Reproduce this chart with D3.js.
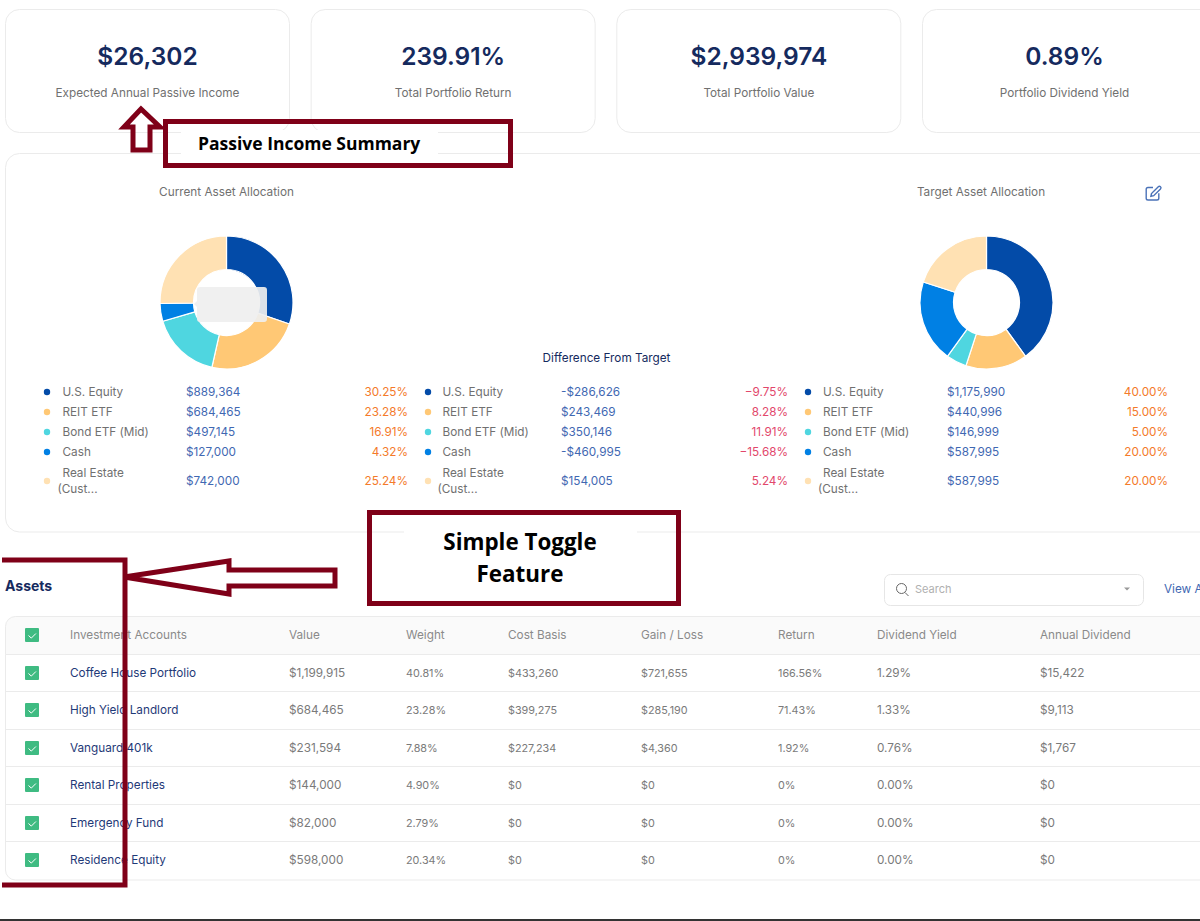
<!DOCTYPE html>
<html>
<head>
<meta charset="utf-8">
<script src="https://cdn.jsdelivr.net/npm/d3@7"></script>
<style>
  body { margin: 0; background: #fff; overflow: hidden; }
  text { font-family: Inter, "Noto Sans", sans-serif; }
</style>
</head>
<body>
<div id="chart"></div>
<script>
// summary cards
const summaryValues = ["$26,302", "239.91%", "$2,939,974", "0.89%"]
const summaryLabels = ["Expected Annual Passive Income", "Total Portfolio Return", "Total Portfolio Value", "Portfolio Dividend Yield"]

// allocation
const categories = ["U.S. Equity", "REIT ETF", "Bond ETF (Mid)", "Cash", "Real Estate (Cust..."]
const currentValues = [889364, 684465, 497145, 127000, 742000]
const currentPct = [30.25, 23.28, 16.91, 4.32, 25.24]
const diffValues = [-286626, 243469, 350146, -460995, 154005]
const diffPct = [-9.75, 8.28, 11.91, -15.68, 5.24]
const targetValues = [1175990, 440996, 146999, 587995, 587995]
const targetPct = [40, 15, 5, 20, 20]
const sliceColors = ["#034ba8", "#ffc875", "#4fd6e0", "#0080e4", "#ffe1b3"]

// assets table
const tableHeaders = ["Investment Accounts", "Value", "Weight", "Cost Basis", "Gain / Loss", "Return", "Dividend Yield", "Annual Dividend"]
const accounts = ["Coffee House Portfolio", "High Yield Landlord", "Vanguard 401k", "Rental Properties", "Emergency Fund", "Residence Equity"]
const accountValues = [1199915, 684465, 231594, 144000, 82000, 598000]
const weights = [40.81, 23.28, 7.88, 4.90, 2.79, 20.34]
const costBasis = [433260, 399275, 227234, 0, 0, 0]
const gains = [721655, 285190, 4360, 0, 0, 0]
const returns = [166.56, 71.43, 1.92, 0, 0, 0]
const yields = [1.29, 1.33, 0.76, 0, 0, 0]
const dividends = [15422, 9113, 1767, 0, 0, 0]

// ----------------------------------------------------------
const width = 1200
const height = 921
const navy = "#152a5e"
const grey = "#707070"
const blue = "#3f68b2"
const line = "#ebebeb"
const annot = "#7f0018"
const small = "11.75px"

const money = v => (v < 0 ? "-" : "") + d3.format("$,.0f")(Math.abs(v))
const pct2 = v => d3.format(".2f")(v) + "%"
const pctReturn = v => v === 0 ? "0%" : pct2(v)

const svg = d3.select("div#chart").append("svg").attr("width", width).attr("height", height).style("display", "block")

// Cards:
const cardX = d3.scalePoint().domain(d3.range(4)).range([5.5, 922.5])
const cards = svg.append("g").attr("id", "cards").selectAll("g").data(summaryValues).enter().append("g")
    .attr("transform", (d, i) => `translate(${cardX(i)}, 9.5)`)
cards.append("rect")
    .attr("width", (d, i) => i == 3 ? 300 : 284)
    .attr("height", 123)
    .attr("rx", 14)
    .attr("fill", "#fff")
    .attr("stroke", line)
cards.append("text")
    .text(d => d)
    .attr("x", 142).attr("y", 55)
    .attr("text-anchor", "middle")
    .attr("fill", navy)
    .style("font-size", "24.5px")
    .style("font-weight", "600")
cards.append("text")
    .text((d, i) => summaryLabels[i])
    .attr("x", 142).attr("y", 87)
    .attr("text-anchor", "middle")
    .attr("fill", grey)
    .style("font-size", small)

// Allocation panel:
svg.append("rect").attr("x", 5.5).attr("y", 153.5).attr("width", 1210).attr("height", 378.5)
    .attr("rx", 14).attr("fill", "#fff").attr("stroke", line)

const pie = d3.pie().sort(null).value(d => d)
const arc = d3.arc().innerRadius(33).outerRadius(66.5)

function donut(values, cx, cy) {
    svg.append("g").attr("transform", `translate(${cx}, ${cy})`)
        .selectAll("path").data(pie(values)).enter().append("path")
        .attr("d", arc)
        .attr("fill", (d, i) => sliceColors[i])
        .attr("stroke", "#fff")
        .attr("stroke-width", 1.2)
}
donut(currentValues, 226.5, 302.5)
donut(targetValues, 986.5, 302.5)

// hover tooltip left in the screenshot
svg.append("path")
    .attr("d", "M200 287H264a3 3 0 0 1 3 3V319a3 3 0 0 1 -3 3H200a3 3 0 0 1 -3 -3V307l-3 -3 3 -3V290a3 3 0 0 1 3 -3z")
    .attr("fill", "#efefef").attr("fill-opacity", 0.92)

const title = (t, x, y, color) => svg.append("text").text(t).attr("x", x).attr("y", y)
    .attr("text-anchor", "middle").attr("fill", color).style("font-size", small)
title("Current Asset Allocation", 226.5, 196, grey)
title("Target Asset Allocation", 981, 196, grey)
title("Difference From Target", 606.5, 362, navy)

// edit icon
svg.append("path")
    .attr("d", "M1153 187.5h-5a1.8 1.8 0 0 0 -1.8 1.8v8.9a1.8 1.8 0 0 0 1.8 1.8h9a1.8 1.8 0 0 0 1.8 -1.8v-5 M1151.5 193.5l-.6 2.8 2.8-.6 6.8-6.8a1.5 1.5 0 0 0 -2.2 -2.2z")
    .attr("fill", "none").attr("stroke", "#4a72b8").attr("stroke-width", 1.4)

// Legends:
const legendY = d3.scaleOrdinal().domain(categories).range([396, 416, 436, 456, 485])

function legend(values, pcts, dotX, labelX, valueX, pctX, pctColor) {
    const g = svg.append("g")
    categories.forEach((c, i) => {
        const y = legendY(c)
        g.append("circle").attr("cx", dotX).attr("cy", y - 4).attr("r", 3.2).attr("fill", sliceColors[i])
        if (c.length > 16) {
            const parts = c.split(" (")
            g.append("text").text(parts[0]).attr("x", labelX).attr("y", y - 8).attr("fill", grey).style("font-size", small)
            g.append("text").text("(" + parts[1]).attr("x", labelX - 5).attr("y", y + 8).attr("fill", grey).style("font-size", small)
        } else {
            g.append("text").text(c).attr("x", labelX).attr("y", y).attr("fill", grey).style("font-size", small)
        }
        g.append("text").text(money(values[i])).attr("x", valueX).attr("y", y).attr("fill", blue).style("font-size", small)
        g.append("text").text(pct2(pcts[i])).attr("x", pctX).attr("y", y)
            .attr("text-anchor", "end").attr("fill", pctColor).style("font-size", small)
    })
}
legend(currentValues, currentPct, 47, 62.5, 186, 408, "#f47a2a")
legend(diffValues, diffPct, 428, 442.5, 561, 788, "#e2476b")
legend(targetValues, targetPct, 808, 823, 947, 1168, "#f47a2a")

// Assets header:
svg.append("text").text("Assets").attr("x", 5).attr("y", 591).attr("fill", navy)
    .style("font-size", "14px").style("font-weight", "700")
svg.append("rect").attr("x", 884.5).attr("y", 574.5).attr("width", 259).attr("height", 31)
    .attr("rx", 6).attr("fill", "#fff").attr("stroke", "#e6e6e6")
svg.append("circle").attr("cx", 901.5).attr("cy", 588.5).attr("r", 5).attr("fill", "none").attr("stroke", "#666").attr("stroke-width", 1)
svg.append("path").attr("d", "M905 592.5l3.5 3.5").attr("stroke", "#666").attr("stroke-width", 1)
svg.append("text").text("Search").attr("x", 915).attr("y", 593).attr("fill", "#b0b0b0").style("font-size", "11px")
svg.append("path").attr("d", "M1124 587.5h6l-3 3z").attr("fill", "#999")
svg.append("text").text("View All").attr("x", 1164).attr("y", 593).attr("fill", blue).style("font-size", small)

// Table:
const columnX = [70, 289, 406, 508, 641, 778, 877, 1040]
const rowY = d3.scaleBand().domain(accounts).range([654, 879])
const table = svg.append("g").attr("id", "table")

table.append("path")
    .attr("d", "M1215 616.5H15.5a10 10 0 0 0 -10 10V654.5H1215z")
    .attr("fill", "#fafafa").attr("stroke", line)
table.append("path")
    .attr("d", "M5.5 654.5V870a10 10 0 0 0 10 10H1215")
    .attr("fill", "none").attr("stroke", line)

function checkbox(cy) {
    table.append("rect").attr("x", 25).attr("y", cy - 7).attr("width", 14).attr("height", 14).attr("rx", 1).attr("fill", "#3fbb82")
    table.append("path").attr("d", `M28.5 ${cy + 0.5}l2.8 2.6 4.6 -4.6`).attr("fill", "none").attr("stroke", "#fff").attr("stroke-width", 1)
}

checkbox(635)
tableHeaders.forEach((h, i) => {
    table.append("text").text(h).attr("x", columnX[i]).attr("y", 639).attr("fill", "#8a8a8a").style("font-size", small)
})

const rows = table.selectAll("g.row").data(accounts).enter().append("g").attr("class", "row")
rows.filter((d, i) => i > 0).append("line")
    .attr("x1", 5.5).attr("x2", 1215)
    .attr("y1", d => Math.floor(rowY(d)) + 0.5).attr("y2", d => Math.floor(rowY(d)) + 0.5)
    .attr("stroke", line)

accounts.forEach((a, i) => {
    const cy = Math.round(rowY(a) + rowY.bandwidth() / 2)
    checkbox(cy)
    const cells = [
        [a, "#1f3a78", small], [money(accountValues[i]), "#7a7a7a", small], [pct2(weights[i]), "#7a7a7a", "10.8px"],
        [money(costBasis[i]), "#7a7a7a", "10.8px"], [money(gains[i]), "#7a7a7a", "10.8px"], [pctReturn(returns[i]), "#7a7a7a", "10.8px"],
        [pct2(yields[i]), "#7a7a7a", small], [money(dividends[i]), "#7a7a7a", small]
    ]
    cells.forEach((c, j) => {
        table.append("text").text(c[0]).attr("x", columnX[j]).attr("y", cy + 4)
            .attr("fill", c[1]).style("font-size", c[2])
    })
})

// Annotations:
const notes = svg.append("g").attr("id", "notes")
const noteLine = (d) => notes.append("path").attr("d", d).attr("fill", "none")
    .attr("stroke", annot).attr("stroke-width", 5).attr("stroke-linejoin", "miter")

notes.append("rect").attr("x", 181).attr("y", 130).attr("width", 257).attr("height", 28).attr("fill", "#fff")
noteLine("M165.5 121.5H510.5V165.5H165.5z")
noteLine("M141 109L124 127H133V150H150V127H160z")
notes.append("text").text("Passive Income Summary").attr("x", 198).attr("y", 150)
    .attr("fill", "#000").style("font-family", "'Open Sans', sans-serif").style("font-size", "17.5px").style("font-weight", "700")

notes.append("rect").attr("x", 404).attr("y", 525).attr("width", 233).attr("height", 70).attr("fill", "#fff")
noteLine("M369.5 512.5H678.5V603.5H369.5z")
notes.append("text").text("Simple Toggle").attr("x", 520).attr("y", 550).attr("text-anchor", "middle")
    .attr("fill", "#000").style("font-family", "'Open Sans', sans-serif").style("font-size", "22.4px").style("font-weight", "700")
notes.append("text").text("Feature").attr("x", 520).attr("y", 582).attr("text-anchor", "middle")
    .attr("fill", "#000").style("font-family", "'Open Sans', sans-serif").style("font-size", "22.4px").style("font-weight", "700")

noteLine("M2 560H125V885H2")
noteLine("M124 577L229 561V570H335V586H229V594z")

// window edge at the bottom of the screenshot
svg.append("rect").attr("x", 0).attr("y", 919).attr("width", width).attr("height", 2).attr("fill", "#333")
</script>
</body>
</html>
